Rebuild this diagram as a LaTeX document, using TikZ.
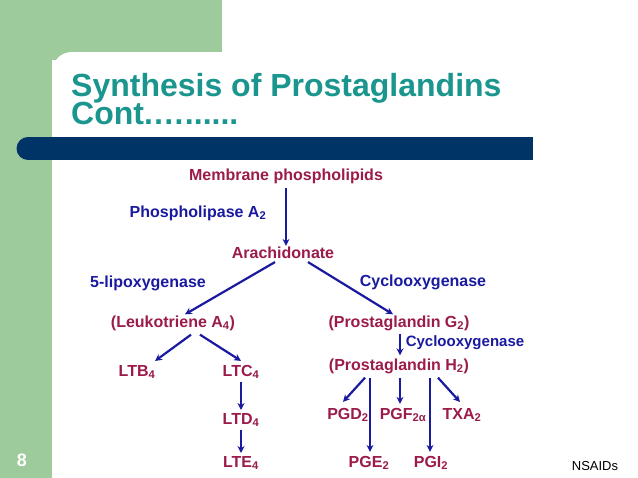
\documentclass[tikz,border=0pt]{standalone}
\usepackage{fontspec}
\setmainfont{Liberation Sans}
\usetikzlibrary{arrows.meta}
\definecolor{grn}{HTML}{9DCB9B}
\definecolor{navy}{HTML}{003366}
\definecolor{teal2}{HTML}{1A968F}
\definecolor{crim}{HTML}{9B1B4A}
\definecolor{blu}{HTML}{1A1AA0}
\tikzset{
 chem/.style={text=crim,font=\bfseries\fontsize{16}{18}\selectfont,inner sep=1pt},
 enz/.style={text=blu,font=\bfseries\fontsize{16}{18}\selectfont,inner sep=1pt},
 arr/.style={draw=blu,line width=2.2pt,-{Stealth[length=7pt,width=7pt]}}
}
\begin{document}
\begin{tikzpicture}[x=1pt,y=-1pt]
\useasboundingbox (0,0) rectangle (638,478);
\fill[white] (0,0) rectangle (638,478);
\fill[grn] (0,0) rectangle (222,60);
\fill[grn] (0,0) rectangle (52,478);
\fill[white] (52,72) rectangle (240,478);
\fill[white] (72,52) rectangle (240,478);
\fill[white] (72,72) circle[radius=20];
\fill[navy] (28,137) rectangle (533,160);
\fill[navy] (28,148.5) circle[radius=11.5];
\node[anchor=base west,text=teal2,font=\bfseries\fontsize{32}{34}\selectfont,inner sep=0] (t1) at (71,97) {Synthesis of Prostaglandins};
\node[anchor=base west,text=teal2,font=\bfseries\fontsize{32}{34}\selectfont,inner sep=0] (t2) at (71,125) {Cont.…......};
\node[text=white,font=\bfseries\fontsize{18}{20}\selectfont] (pg) at (22,460) {8};
\node[font=\fontsize{13}{14}\selectfont] (ns) at (595,466) {NSAIDs};

\node[chem] (mp) at (286,176) {Membrane phospholipids};
\node[enz] (pla) at (198,213) {Phospholipase A\textsubscript{2}};
\node[chem] (ara) at (283,253) {Arachidonate};
\node[enz] (lox) at (148,283) {5-lipoxygenase};
\node[enz] (cox) at (423,282) {Cyclooxygenase};
\node[chem] (lta) at (173,323) {(Leukotriene A\textsubscript{4})};
\node[chem] (pgg) at (399,323) {(Prostaglandin G\textsubscript{2})};
\node[enz,font=\bfseries\fontsize{15}{16}\selectfont] (cox2) at (465,343) {Cyclooxygenase};
\node[chem] (pgh) at (399,366) {(Prostaglandin H\textsubscript{2})};
\node[chem] (ltb) at (137,372) {LTB\textsubscript{4}};
\node[chem] (ltc) at (241,372) {LTC\textsubscript{4}};
\node[chem] (ltd) at (241,420) {LTD\textsubscript{4}};
\node[chem] (lte) at (241,463) {LTE\textsubscript{4}};
\node[chem] (pgd) at (348,415) {PGD\textsubscript{2}};
\node[chem] (pgf) at (403,415) {PGF\textsubscript{2α}};
\node[chem] (txa) at (462,415) {TXA\textsubscript{2}};
\node[chem] (pge) at (369,463) {PGE\textsubscript{2}};
\node[chem] (pgi) at (431,463) {PGI\textsubscript{2}};

\draw[arr] (mp.south -| 286,0) ++(0,3) -- (ara.north -| 286,0);
\draw[arr] ([xshift=-8pt,yshift=-2pt]ara.south) -- (lta.north -| 185,0);
\draw[arr] ([xshift=25pt,yshift=-2pt]ara.south) -- (pgg.north -| 393,0);
\draw[arr] ([xshift=18pt,yshift=-3pt]lta.south) -- ([xshift=18pt,yshift=3pt]ltb.north);
\draw[arr] ([xshift=27pt,yshift=-3pt]lta.south) -- ([yshift=3pt]ltc.north);
\draw[arr] ([yshift=-2pt]ltc.south) -- ([yshift=2pt]ltd.north);
\draw[arr] ([yshift=-2pt]ltd.south) -- ([yshift=2pt]lte.north);
\draw[arr] ([xshift=1pt,yshift=-2pt]pgg.south) -- ([xshift=1pt,yshift=2pt]pgh.north);
\draw[arr] ([xshift=-34pt,yshift=-3pt]pgh.south) -- ([xshift=-5pt,yshift=5pt]pgd.north);
\draw[arr] ([xshift=-29pt,yshift=-3pt]pgh.south) -- ([yshift=3pt]pge.north -| 370,0);
\draw[arr] ([xshift=1pt,yshift=-3pt]pgh.south) -- ([xshift=-3pt,yshift=3pt]pgf.north);
\draw[arr] ([xshift=31pt,yshift=-3pt]pgh.south) -- ([yshift=3pt]pgi.north -| 430,0);
\draw[arr] ([xshift=39pt,yshift=-3pt]pgh.south) -- ([xshift=-2pt,yshift=5pt]txa.north);
\end{tikzpicture}
\end{document}
